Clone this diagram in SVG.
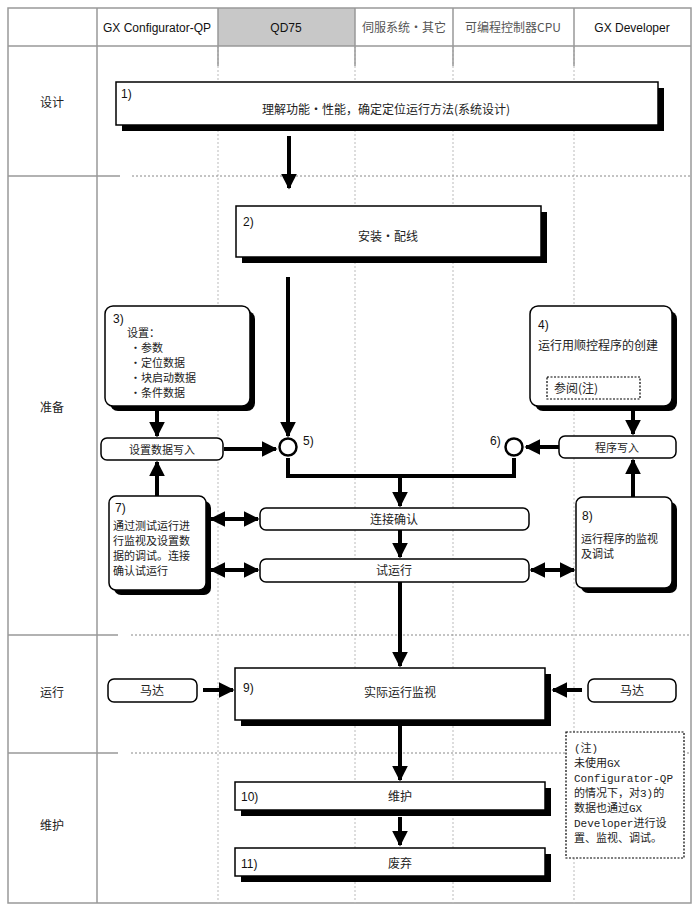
<svg xmlns="http://www.w3.org/2000/svg" width="700" height="912" viewBox="0 0 700 912">
<style>
.t{font-family:"Noto Sans CJK SC","Liberation Sans",sans-serif;font-size:12px;fill:#222}
.s{font-size:11px}
.e{font-family:"Liberation Sans",Arial,sans-serif;font-size:12px;fill:#111}
.m{font-family:"Liberation Mono","Noto Sans CJK SC",monospace;font-size:11px;fill:#222}
.grid{stroke:#999;stroke-width:1.5;fill:none}
.vd{stroke:#bbb;stroke-width:1;stroke-dasharray:2 2}
.hd{stroke:#888;stroke-width:1;stroke-dasharray:2 2}
.box{fill:#fff;stroke:#000;stroke-width:1.5}
.sh{fill:#000}
.ar{stroke:#000;stroke-width:4;fill:none}
</style>
<defs>
<marker id="ah" viewBox="0 0 10 10" refX="9" refY="5" markerWidth="4" markerHeight="4" orient="auto-start-reverse" markerUnits="strokeWidth"><path d="M0,0L10,5L0,10z" fill="#000"/></marker>
</defs>
<rect width="700" height="912" fill="#fff"/>
<g id="grid">
<rect x="218" y="8" width="137" height="38" fill="#c8c8c8"/>
<rect x="8" y="8" width="683" height="895" class="grid"/>
<line x1="8" y1="46" x2="691" y2="46" class="grid"/>
<line x1="97" y1="8" x2="97" y2="903" class="grid"/>
<line x1="218" y1="8" x2="218" y2="46" class="grid"/>
<line x1="355" y1="8" x2="355" y2="46" class="grid"/>
<line x1="453" y1="8" x2="453" y2="46" class="grid"/>
<line x1="574" y1="8" x2="574" y2="46" class="grid"/>
<line x1="218" y1="46" x2="218" y2="903" class="vd"/>
<line x1="355" y1="46" x2="355" y2="903" class="vd"/>
<line x1="453" y1="46" x2="453" y2="903" class="vd"/>
<line x1="574" y1="46" x2="574" y2="903" class="vd"/>
<line x1="218" y1="46" x2="218" y2="66" class="grid"/>
<line x1="355" y1="46" x2="355" y2="66" class="grid"/>
<line x1="453" y1="46" x2="453" y2="66" class="grid"/>
<line x1="574" y1="46" x2="574" y2="66" class="grid"/>
<line x1="8" y1="176" x2="120" y2="176" class="grid"/>
<line x1="132" y1="176" x2="691" y2="176" class="hd"/>
<line x1="8" y1="635" x2="118" y2="635" class="grid"/>
<line x1="131" y1="635" x2="691" y2="635" class="hd"/>
<line x1="8" y1="753" x2="118" y2="753" class="grid"/>
<line x1="131" y1="753" x2="691" y2="753" class="hd"/>
<text x="157" y="32" class="e" text-anchor="middle">GX Configurator-QP</text>
<text x="286" y="32" class="e" text-anchor="middle">QD75</text>
<text x="404" y="32" class="t" text-anchor="middle" style="fill:#555">伺服系统・其它</text>
<text x="513" y="32" class="t" text-anchor="middle" style="fill:#555">可编程控制器CPU</text>
<text x="632" y="32" class="e" text-anchor="middle">GX Developer</text>
<text x="52" y="107" class="t" text-anchor="middle">设计</text>
<text x="52" y="412" class="t" text-anchor="middle">准备</text>
<text x="52" y="697" class="t" text-anchor="middle">运行</text>
<text x="52" y="830" class="t" text-anchor="middle">维护</text>
</g>
<g id="connectors">
<line x1="289" y1="136" x2="289" y2="188" class="ar" marker-end="url(#ah)"/>
<line x1="288" y1="277" x2="288" y2="436" class="ar" marker-end="url(#ah)"/>
<line x1="157" y1="407" x2="157" y2="436" class="ar" marker-end="url(#ah)"/>
<line x1="224" y1="449" x2="276" y2="449" class="ar" marker-end="url(#ah)"/>
<line x1="633" y1="407" x2="633" y2="434" class="ar" marker-end="url(#ah)"/>
<line x1="559" y1="447" x2="526" y2="447" class="ar" marker-end="url(#ah)"/>
<polyline points="288,458 288,476 514,476 514,458" class="ar"/>
<line x1="400" y1="476" x2="400" y2="506" class="ar" marker-end="url(#ah)"/>
<line x1="400" y1="530" x2="400" y2="557" class="ar" marker-end="url(#ah)"/>
<line x1="400" y1="582" x2="400" y2="666" class="ar" marker-end="url(#ah)"/>
<line x1="157" y1="496" x2="157" y2="462" class="ar" marker-end="url(#ah)"/>
<line x1="633" y1="497" x2="633" y2="460" class="ar" marker-end="url(#ah)"/>
<line x1="211" y1="519" x2="258" y2="519" class="ar" marker-start="url(#ah)" marker-end="url(#ah)"/>
<line x1="211" y1="570" x2="258" y2="570" class="ar" marker-start="url(#ah)" marker-end="url(#ah)"/>
<line x1="531" y1="570" x2="574" y2="570" class="ar" marker-start="url(#ah)" marker-end="url(#ah)"/>
<line x1="203" y1="690" x2="233" y2="690" class="ar" marker-end="url(#ah)"/>
<line x1="582" y1="690" x2="553" y2="690" class="ar" marker-end="url(#ah)"/>
<line x1="400" y1="726" x2="400" y2="780" class="ar" marker-end="url(#ah)"/>
<line x1="400" y1="817" x2="400" y2="845" class="ar" marker-end="url(#ah)"/>
</g>
<g id="n1"><rect x="122" y="88" width="542" height="43" class="sh"/><rect x="116" y="82" width="542" height="43" class="box"/>
<text x="121" y="98" class="e">1)</text><text x="386" y="114" class="t" text-anchor="middle">理解功能・性能，确定定位运行方法(系统设计)</text></g>
<g id="n2"><rect x="242" y="212" width="305" height="51" class="sh"/><rect x="236" y="206" width="305" height="51" class="box"/>
<text x="243" y="226" class="e">2)</text><text x="388" y="241" class="t" text-anchor="middle">安装・配线</text></g>
<g id="n3"><rect x="110" y="311" width="145" height="100" rx="8" class="sh"/><rect x="105" y="306" width="145" height="100" rx="8" class="box"/>
<text x="113" y="323" class="e">3)</text>
<text x="127" y="337" class="t s">设置：</text><text x="130" y="352" class="t s">・参数</text><text x="130" y="367" class="t s">・定位数据</text><text x="130" y="382" class="t s">・块启动数据</text><text x="130" y="397" class="t s">・条件数据</text></g>
<g id="n4"><rect x="535" y="311" width="142" height="100" rx="8" class="sh"/><rect x="530" y="306" width="142" height="100" rx="8" class="box"/>
<text x="538" y="329" class="e">4)</text><text x="538" y="350" class="t">运行用顺控程序的创建</text>
<rect x="547" y="377" width="93" height="22" fill="#fff" stroke="#000" stroke-width="1.2" stroke-dasharray="2 1.5"/><text x="554" y="393" class="t">参阅(注)</text></g>
<g id="n_setw"><rect x="101" y="438" width="122" height="22" rx="6" class="box"/><text x="162" y="454" class="t s" text-anchor="middle">设置数据写入</text></g>
<g id="n_progw"><rect x="559" y="436" width="117" height="22" rx="6" class="box"/><text x="617" y="452" class="t s" text-anchor="middle">程序写入</text></g>
<g id="n5"><circle cx="288" cy="447" r="8.5" fill="#fff" stroke="#000" stroke-width="2.5"/><text x="303" y="445" class="e">5)</text></g>
<g id="n6"><circle cx="514" cy="447" r="8.5" fill="#fff" stroke="#000" stroke-width="2.5"/><text x="490" y="445" class="e">6)</text></g>
<g id="n_conn"><rect x="260" y="508" width="269" height="22" rx="6" class="box"/><text x="394" y="524" class="t" text-anchor="middle">连接确认</text></g>
<g id="n_trial"><rect x="260" y="559" width="269" height="23" rx="6" class="box"/><text x="394" y="575" class="t" text-anchor="middle">试运行</text></g>
<g id="n7"><rect x="114" y="501" width="97" height="94" rx="7" class="sh"/><rect x="109" y="496" width="97" height="94" rx="7" class="box"/>
<text x="115" y="512" class="e">7)</text><text x="113" y="530" class="t s">通过测试运行进</text><text x="113" y="545" class="t s">行监视及设置数</text><text x="113" y="560" class="t s">据的调试。连接</text><text x="113" y="575" class="t s">确认试运行</text></g>
<g id="n8"><rect x="581" y="502" width="96" height="91" rx="7" class="sh"/><rect x="576" y="497" width="96" height="91" rx="7" class="box"/>
<text x="582" y="520" class="e">8)</text><text x="581" y="543" class="t s">运行程序的监视</text><text x="581" y="558" class="t s">及调试</text></g>
<g id="n9"><rect x="241" y="674" width="310" height="52" class="sh"/><rect x="235" y="668" width="310" height="52" class="box"/>
<text x="243" y="692" class="e">9)</text><text x="400" y="697" class="t" text-anchor="middle">实际运行监视</text></g>
<g id="m1"><rect x="108" y="679" width="89" height="23" rx="6" class="box"/><text x="152" y="695" class="t" text-anchor="middle">马达</text></g>
<g id="m2"><rect x="588" y="679" width="88" height="23" rx="6" class="box"/><text x="632" y="695" class="t" text-anchor="middle">马达</text></g>
<g id="n10"><rect x="241" y="788" width="310" height="28" class="sh"/><rect x="235" y="782" width="310" height="28" class="box"/>
<text x="241" y="801" class="e">10)</text><text x="400" y="801" class="t" text-anchor="middle">维护</text></g>
<g id="n11"><rect x="241" y="854" width="310" height="28" class="sh"/><rect x="235" y="848" width="310" height="28" class="box"/>
<text x="241" y="868" class="e">11)</text><text x="400" y="868" class="t" text-anchor="middle">废弃</text></g>
<g id="note"><rect x="566" y="732" width="118" height="126" fill="#fff" stroke="#000" stroke-width="1.2" stroke-dasharray="2 1.5"/>
<text class="m" x="574"><tspan x="574" y="752">(注)</tspan><tspan x="574" y="767">未使用GX</tspan><tspan x="574" y="782">Configurator-QP</tspan><tspan x="574" y="797">的情况下，对3)的</tspan><tspan x="574" y="812">数据也通过GX</tspan><tspan x="574" y="827">Developer进行设</tspan><tspan x="574" y="842">置、监视、调试。</tspan></text></g>
</svg>
